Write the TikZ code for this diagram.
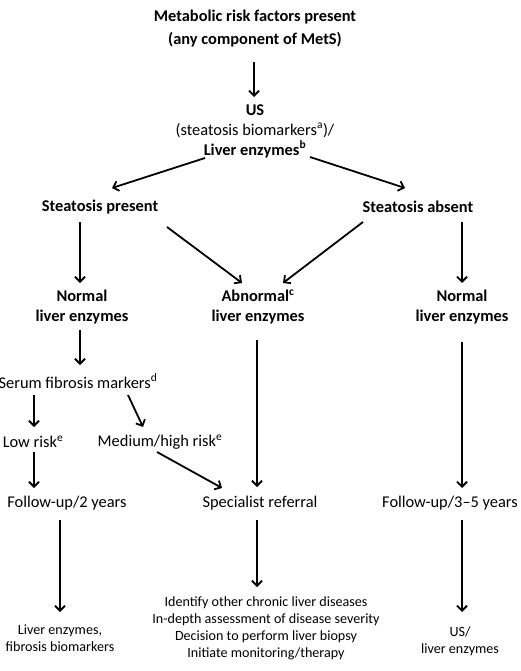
\documentclass[tikz,border=0pt]{standalone}
\usepackage{fontspec}
\setmainfont{Carlito}
\usetikzlibrary{arrows.meta,calc}
\tikzset{
  txt/.style={align=center,inner sep=0pt,font=\fontsize{16.4}{20}\selectfont},
  btxt/.style={txt,font=\fontsize{16.4}{20}\selectfont\bfseries},
  smtxt/.style={align=center,inner sep=0pt,font=\fontsize{14.1}{17}\selectfont},
  arr/.style={line width=1.8pt,-{Straight Barb[length=5pt,width=10pt,line width=1.8pt]}}
}
\begin{document}
\begin{tikzpicture}[x=1pt,y=-1pt]
\useasboundingbox (0,0) rectangle (520,671);
\node[btxt,font=\fontsize{16.4}{23}\selectfont\bfseries] (title) at (255,29) {Metabolic risk factors present\\(any component of MetS)};
\node[txt] (us) at (255,131) {\textbf{US}\\(steatosis biomarkers\textsuperscript{a})/\\\textbf{Liver enzymes\textsuperscript{b}}};
\node[btxt] (sp) at (100,207) {Steatosis present};
\node[btxt] (sa) at (418,207) {Steatosis absent};
\node[btxt] (nl) at (82,307) {Normal\\liver enzymes};
\node[btxt] (ab) at (258,307) {Abnormal\textsuperscript{c}\\liver enzymes};
\node[btxt] (nr) at (462,307) {Normal\\liver enzymes};
\node[txt] (sf) at (78,381) {Serum fibrosis markers\textsuperscript{d}};
\node[txt] (lr) at (33,442) {Low risk\textsuperscript{e}};
\node[txt] (mh) at (160,442) {Medium/high risk\textsuperscript{e}};
\node[txt] (f2) at (67,503) {Follow-up/2 years};
\node[txt] (sr) at (260,503) {Specialist referral};
\node[txt] (f35) at (450,503) {Follow-up/3–5 years};
\node[smtxt] (le) at (60,638) {Liver enzymes,\\fibrosis biomarkers};
\node[smtxt] (id) at (266,628) {Identify other chronic liver diseases\\In-depth assessment of disease severity\\Decision to perform liver biopsy\\Initiate monitoring/therapy};
\node[smtxt] (usl) at (460,641) {US/\\liver enzymes};

\draw[arr] ($(title.center)+(-1,33)$) -- ($(us.center)+(-1,-34)$);
\draw[arr] ($(us.center)+(-50,27)$) -- ($(sp.center)+(12,-19)$);
\draw[arr] ($(us.center)+(55,26)$) -- ($(sa.center)+(-13,-19)$);
\draw[arr] ($(sp.center)+(-20,15)$) -- ($(nl.center)+(-2,-24)$);
\draw[arr] ($(sp.center)+(67,20)$) -- ($(ab.center)+(-16,-24)$);
\draw[arr] ($(sa.center)+(-55,15)$) -- ($(ab.center)+(25,-24)$);
\draw[arr] ($(sa.center)+(44,15)$) -- ($(nr.center)+(0,-24)$);
\draw[arr] ($(nl.center)+(-2,23)$) -- ($(sf.center)+(2,-16)$);
\draw[arr] ($(sf.center)+(-44,14)$) -- ($(lr.center)+(1,-15)$);
\draw[arr] ($(sf.center)+(50,14)$) -- ($(mh.center)+(-17,-15)$);
\draw[arr] ($(ab.center)+(-1,33)$) -- ($(sr.center)+(-3,-16)$);
\draw[arr] ($(nr.center)+(0,35)$) -- ($(f35.center)+(12,-15)$);
\draw[arr] ($(lr.center)+(1,10)$) -- ($(f2.center)+(-33,-15)$);
\draw[arr] ($(mh.center)+(-3,10)$) -- ($(sr.center)+(-38,-15)$);
\draw[arr] ($(f2.center)+(-7,17)$) -- ($(le.center)+(0,-26)$);
\draw[arr] ($(sr.center)+(-3,17)$) -- ($(id.center)+(-9,-41)$);
\draw[arr] ($(f35.center)+(12,17)$) -- ($(usl.center)+(2,-29)$);
\end{tikzpicture}
\end{document}
